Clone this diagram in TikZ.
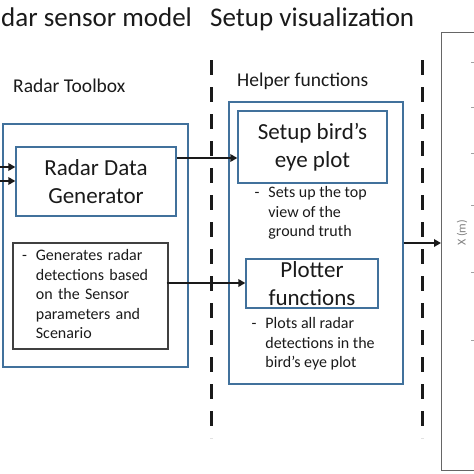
\documentclass[tikz,border=0pt]{standalone}
\usepackage{fontspec}
\setmainfont{Carlito}
\usetikzlibrary{arrows.meta,positioning,calc}
\definecolor{ink}{HTML}{1A1A1A}
\definecolor{steel}{HTML}{41719C}
\definecolor{charcoal}{HTML}{404040}
\definecolor{axisg}{HTML}{A0A0A0}
\tikzset{
  box/.style={draw=#1, line width=1.3pt, text=ink, align=center, inner sep=0pt,
              font=\fontsize{23}{28}\selectfont},
  flow/.style={-{Triangle[length=7pt,width=7.5pt]}, line width=2.5pt, draw=ink},
  lbl/.style={text=ink, anchor=base west, inner sep=0pt},
  note/.style={text=ink, align=left, inner sep=0pt, font=\fontsize{16}{19.5}\selectfont},
  divider/.style={line width=3pt, dash pattern=on 15pt off 12pt, draw=ink}
}
\newcommand{\dashitem}[1]{\begin{tabular}{@{}l@{\hspace{9pt}}l@{}}-&#1\end{tabular}}

\begin{document}
\begin{tikzpicture}[x=1pt, y=-1pt]
  \useasboundingbox (0,0) rectangle (474,474);
  % headings
  \node[lbl, font=\fontsize{27}{32}\selectfont] (modeltitle) at (1,26) {dar sensor model};
  \node[lbl, font=\fontsize{27}{32}\selectfont] (vistitle) at (210,26) {Setup visualization};
  \node[lbl, font=\fontsize{19.5}{23}\selectfont] (toolboxlbl) at (13,92) {Radar Toolbox};
  \node[lbl, font=\fontsize{19.5}{23}\selectfont] (helperlbl) at (237,86) {Helper functions};
  % section dividers
  \foreach \dx in {211,422}
    \draw[divider] (\dx,60) -- (\dx,438);
  % radar toolbox
  \node[box=steel, minimum width=185pt, minimum height=243pt] (toolbox) at (95.5,245.5) {};
  \node[box=steel, minimum width=160pt, minimum height=69pt] (rdg) at (96,181.5) {Radar Data\\Generator};
  \node[note, draw=charcoal, line width=1.3pt, minimum height=106pt, text width=137pt,
        inner xsep=9pt] (rdgnote) at (90.5,296)
    {\dashitem{Generates radar\\&detections based\\&on the Sensor\\&parameters and\\&Scenario}};
  % helper functions
  \node[box=steel, minimum width=174pt, minimum height=282pt] (helper) at (316,243) {};
  \node[box=steel, minimum width=149pt, minimum height=72pt] (birdseye) at (312.5,147) {Setup bird’s\\eye plot};
  \node[note, below=0pt of birdseye.south west, anchor=north west, xshift=17pt] (birdnote)
    {\dashitem{Sets up the top\\&view of the\\&ground truth}};
  \node[box=steel, minimum width=132pt, minimum height=49pt] (plotter) at (312,283.5) {Plotter\\functions};
  \node[note, below=6pt of plotter.south west, anchor=north west, xshift=6pt] (plotnote)
    {\dashitem{Plots all radar\\&detections in the\\&bird’s eye plot}};
  % plot frame
  \node[draw=charcoal!80, line width=1pt, minimum width=60pt, minimum height=438pt,
        anchor=north west, inner sep=0pt] (plotframe) at (441,32) {};
  \node[text=axisg!80!black, rotate=90, font=\fontsize{12}{14}\selectfont, inner sep=0pt] (xaxis) at (462,233) {X (m)};
  \foreach \ty in {62,107,153,205,272,340}
    \draw[axisg, line width=1pt] (471,\ty) -- (474,\ty);
  % connectors
  \coordinate (in1) at (0,167);
  \coordinate (in2) at (0,181);
  \draw[flow] (in1) -- (in1 -| rdg.west);
  \draw[flow] (in2) -- (in2 -| rdg.west);
  \coordinate (gen) at ([yshift=23.5pt]rdg.east);
  \draw[flow] (gen) -- (gen -| birdseye.west);
  \coordinate (det) at ([yshift=13pt, xshift=-2pt]rdgnote.east);
  \draw[flow] (det) -- (det -| plotter.west);
  \draw[flow] (helper.east) -- (helper.east -| plotframe.west);
\end{tikzpicture}
\end{document}
